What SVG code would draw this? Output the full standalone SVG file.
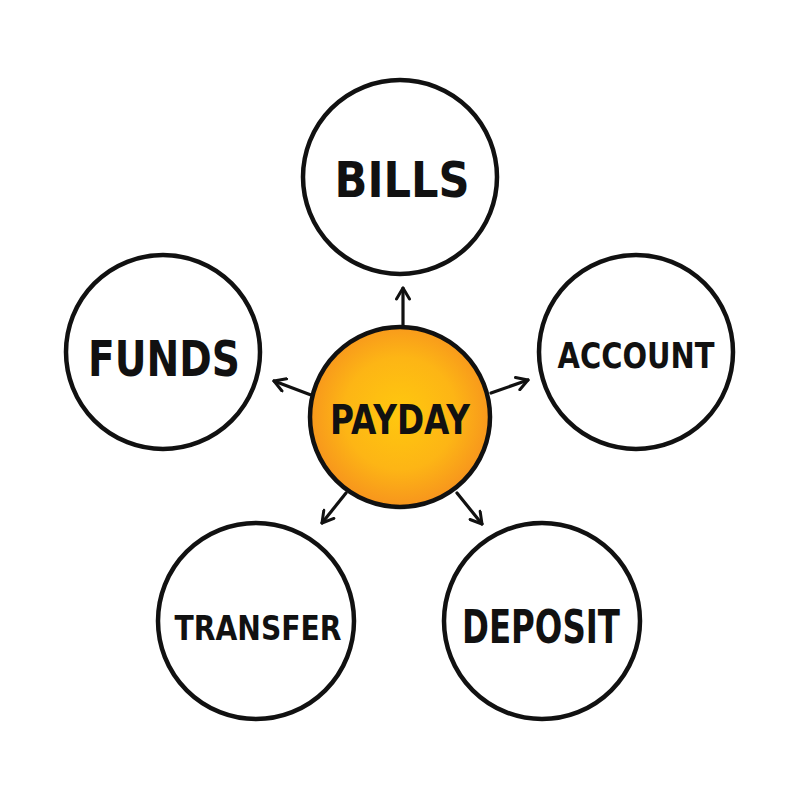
<svg xmlns="http://www.w3.org/2000/svg" width="800" height="800" viewBox="0 0 800 800">
<defs>
<radialGradient id="og" cx="50%" cy="48%" r="52%">
<stop offset="0" stop-color="#FFC80E"/>
<stop offset="0.6" stop-color="#FDB515"/>
<stop offset="1" stop-color="#F7941D"/>
</radialGradient>
<marker id="ah" viewBox="0 0 16 16" refX="14" refY="8" markerWidth="16" markerHeight="16" markerUnits="userSpaceOnUse" orient="auto">
<path d="M3,1.5 L14,8 L3,14.5" fill="none" stroke="#111" stroke-width="3" stroke-linecap="round" stroke-linejoin="round"/>
</marker>
</defs>
<style>
.c{fill:#fff;stroke:#111;stroke-width:4.5}
.t{font-family:"DejaVu Sans","Liberation Sans",sans-serif;font-weight:bold;fill:#111;text-anchor:middle}
.a{stroke:#111;stroke-width:3.2;fill:none;stroke-linecap:round;marker-end:url(#ah)}
</style>
<rect width="800" height="800" fill="#fff"/>
<g id="connectors">
<line class="a" x1="403" y1="325" x2="403" y2="288"/>
<line class="a" x1="311" y1="395" x2="274" y2="381"/>
<line class="a" x1="491" y1="393" x2="528" y2="380"/>
<line class="a" x1="346" y1="493" x2="322" y2="523"/>
<line class="a" x1="457" y1="493" x2="482" y2="524"/>
</g>
<g id="payday">
<circle cx="400" cy="417" r="90" fill="url(#og)" stroke="#111" stroke-width="4.5"/>
<text class="t" x="400" y="434" font-size="40" textLength="140" lengthAdjust="spacingAndGlyphs">PAYDAY</text>
</g>
<g id="bills">
<circle class="c" cx="400" cy="177" r="97"/>
<text class="t" x="402" y="197" font-size="50" textLength="135" lengthAdjust="spacingAndGlyphs">BILLS</text>
</g>
<g id="funds">
<circle class="c" cx="163" cy="352" r="97"/>
<text class="t" x="164" y="376" font-size="50" textLength="152" lengthAdjust="spacingAndGlyphs">FUNDS</text>
</g>
<g id="account">
<circle class="c" cx="636" cy="352" r="97"/>
<text class="t" x="636" y="368" font-size="35" textLength="157" lengthAdjust="spacingAndGlyphs">ACCOUNT</text>
</g>
<g id="transfer">
<circle class="c" cx="256" cy="621" r="98"/>
<text class="t" x="258" y="640" font-size="33" textLength="167" lengthAdjust="spacingAndGlyphs">TRANSFER</text>
</g>
<g id="deposit">
<circle class="c" cx="542" cy="621" r="98"/>
<text class="t" x="541" y="643" font-size="47" textLength="158" lengthAdjust="spacingAndGlyphs">DEPOSIT</text>
</g>
</svg>
